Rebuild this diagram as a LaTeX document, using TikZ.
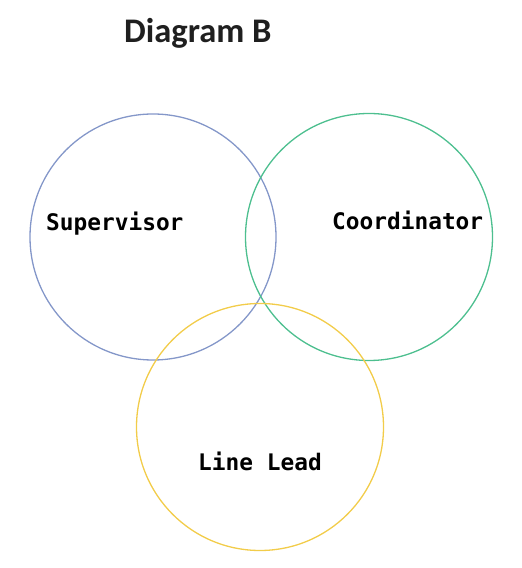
\documentclass[tikz,border=0pt]{standalone}
\usepackage{fontspec}
\usepackage{xcolor}
\setmainfont{Carlito}
\newfontfamily\labelfont{DejaVu Sans Mono}

\definecolor{supblue}{HTML}{8497C9}
\definecolor{coordgreen}{HTML}{4DBF8F}
\definecolor{leadyellow}{HTML}{F2CC4A}

\begin{document}
\begin{tikzpicture}[x=1pt,y=1pt]
    \useasboundingbox (0,0) rectangle (522,568);

    \node[anchor=base west,inner sep=0pt,font=\fontsize{34.5}{38}\selectfont\bfseries,text=black!88] (title) at (124,525) {Diagram B};

    \node[shape=circle,draw=supblue,line width=1.3pt,minimum size=246pt,inner sep=0pt] (S) at (153,331) {};
    \node[shape=circle,draw=coordgreen,line width=1.3pt,minimum size=247pt,inner sep=0pt] (C) at (369,331) {};
    \node[shape=circle,draw=leadyellow,line width=1.3pt,minimum size=247pt,inner sep=0pt] (L) at (260,141) {};

    \node[anchor=base west,inner sep=0pt,font=\labelfont\fontsize{22.8}{26}\selectfont\bfseries] (Stext) at (46,337) {Supervisor};
    \node[anchor=base west,inner sep=0pt,font=\labelfont\fontsize{22.8}{26}\selectfont\bfseries] (Ctext) at (332,338) {Coordinator};
    \node[anchor=base west,inner sep=0pt,font=\labelfont\fontsize{22.8}{26}\selectfont\bfseries] (Ltext) at (198,97) {Line Lead};
\end{tikzpicture}
\end{document}
